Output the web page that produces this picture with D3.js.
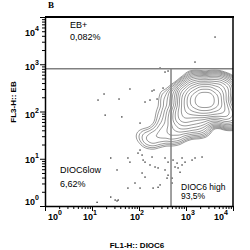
<!DOCTYPE html>
<html>
<head>
<meta charset="utf-8">
<script src="https://cdn.jsdelivr.net/npm/d3@7"></script>
<style>
  body { margin: 0; background: #fff; }
  svg { display: block; font-family: Arial, "Liberation Sans", sans-serif; }
  text { fill: #000; }
</style>
</head>
<body>
<svg id="chart" width="250" height="250"></svg>
<script>
// axis decades and their exponent labels
const decades = [1, 10, 100, 1000, 10000];
const exponents = ["0", "1", "2", "3", "4"];

// quadrant gates
const gateFL1 = 480;
const gateFL3 = 800;

// quadrant names / percentages
const regionNames = ["EB+", "DIOC6low", "DIOC6 high"];
const regionPercents = ["0,082%", "6,62%", "93,5%"];

// individual events drawn as dots (FL1, FL3)
const dotFL1 = [13.4, 18, 37.5, 19, 43, 4140, 1550, 280, 357, 414, 64, 189, 208, 324, 171, 134, 242, 105,
  25, 34, 12.8, 25, 31, 34, 36, 105, 95, 116, 58, 64, 122, 134, 171, 219, 254, 357, 414, 357, 414, 394,
  116, 134, 105, 82, 58, 254, 529, 644, 822, 952, 1342, 1553, 2190, 676, 745, 583, 504, 822, 189, 280, 199, 504];
const dotFL3 = [175, 235, 184, 84, 77, 3770, 1115, 833, 685, 720, 300, 272, 285, 314, 175, 159, 184, 57,
  10.4, 5.8, 1.2, 1.55, 1.34, 1.28, 1.34, 15.3, 13.2, 12, 10.4, 8.5, 9.4, 8.5, 7.4, 6.7, 6.4, 10.4, 8.5, 5.8, 4.5, 3.9,
  5.0, 4.1, 2.4, 3.07, 2.4, 2.5, 9.4, 8.1, 7.4, 8.5, 9.4, 10.4, 10.9, 6.4, 5.2, 6.7, 3.07, 10.4, 10.9, 2.8, 2.4, 3.9];

// main population (weighted centres used for the density contours)
const clusterFL1 = [2535, 1553, 4140, 2535, 2535, 1217, 5290, 952, 6760, 8630, 745, 1553, 4140,
  400, 330, 357, 250, 583, 1986, 952, 171, 105];
const clusterFL3 = [175, 175, 175, 259, 108, 108, 108, 223, 285, 84, 84, 364, 364,
  200, 84, 40.6, 28, 31.8, 52, 52, 25, 32];
const clusterWeight = [12, 8, 8, 6, 6, 5, 5, 4, 4, 4, 3, 3, 3,
  0.7, 0.6, 0.8, 0.5, 1, 2, 2, 0.6, 0.35];

const pLeft = 45, pRight = 233, pTop = 17, pBottom = 206;

const svg = d3.select('#chart');
const x = d3.scaleLog().domain([1, 10000]).range([pLeft, pRight]);
const y = d3.scaleLog().domain([1, 10000]).range([pBottom, pTop]);

const allTicks = [];
decades.slice(0, -1).forEach(d => { for (let k = 1; k < 10; k++) allTicks.push(d * k); });
allTicks.push(10000);
const isMajor = v => decades.includes(v);

svg.append('clipPath').attr('id', 'plotClip')
  .append('rect').attr('x', pLeft).attr('y', pTop).attr('width', pRight - pLeft).attr('height', pBottom - pTop);

// density contours
const cluster = clusterFL1.map((v, i) => ({ fx: v, fy: clusterFL3[i], w: clusterWeight[i] }));
const density = d3.contourDensity()
  .x(d => x(d.fx)).y(d => y(d.fy)).weight(d => d.w)
  .size([250, 250]).cellSize(1).bandwidth(7);
const probe = density.thresholds(200)(cluster);
const maxD = d3.max(probe, c => c.value);
const levels = d3.range(1, 16).map(k => maxD * Math.pow(0.76, k));
const contours = density.thresholds(levels)(cluster);

svg.append('g').attr('clip-path', 'url(#plotClip)')
  .selectAll('path').data(contours).enter().append('path')
  .attr('d', d3.geoPath())
  .attr('fill', 'none')
  .attr('stroke', '#6a6a6a')
  .attr('stroke-width', 0.7);

// dots
svg.append('g').selectAll('rect')
  .data(dotFL1.map((v, i) => [v, dotFL3[i]])).enter().append('rect')
  .attr('x', d => x(d[0]) - 0.6).attr('y', d => y(d[1]) - 0.6)
  .attr('width', 1.3).attr('height', 1.3).attr('fill', '#222');

// gates
svg.append('line').attr('x1', pLeft).attr('x2', pRight).attr('y1', y(gateFL3)).attr('y2', y(gateFL3))
  .attr('stroke', '#808080').attr('stroke-width', 1.5);
svg.append('line').attr('x1', x(gateFL1)).attr('x2', x(gateFL1)).attr('y1', y(gateFL3)).attr('y2', pBottom)
  .attr('stroke', '#808080').attr('stroke-width', 1.5);

// frame top / right
svg.append('line').attr('x1', pLeft).attr('x2', pRight + 1).attr('y1', pTop).attr('y2', pTop)
  .attr('stroke', '#000').attr('stroke-width', 2);
svg.append('line').attr('x1', pRight).attr('x2', pRight).attr('y1', pTop).attr('y2', pBottom)
  .attr('stroke', '#000').attr('stroke-width', 1.5);

// axes
const xAxis = svg.append('g').attr('transform', `translate(0,${pBottom})`)
  .call(d3.axisBottom(x).tickValues(allTicks).tickFormat('').tickSizeOuter(0));
xAxis.selectAll('.tick line').attr('y2', d => isMajor(d) ? 5 : 3);
const yAxis = svg.append('g').attr('transform', `translate(${pLeft},0)`)
  .call(d3.axisLeft(y).tickValues(allTicks).tickFormat('').tickSizeOuter(0));
yAxis.selectAll('.tick line').attr('x2', d => isMajor(d) ? -5 : -3);
svg.selectAll('.domain').attr('stroke-width', 1.5);
svg.selectAll('.tick line').attr('stroke-width', 1);

// tick labels
const xShift = [10, -2, -2, 2, -12];
decades.forEach((d, i) => {
  const t = svg.append('text').attr('x', x(d) + xShift[i]).attr('y', 220)
    .attr('text-anchor', 'middle').attr('font-size', 9).attr('font-weight', 'bold');
  t.append('tspan').text('10');
  t.append('tspan').attr('dy', -5).attr('font-size', 7).text(exponents[i]);
});
const yShift = [-1, 4, 6, 6, 19];
decades.forEach((d, i) => {
  const t = svg.append('text').attr('x', 39).attr('y', y(d) + yShift[i])
    .attr('text-anchor', 'end').attr('font-size', 9).attr('font-weight', 'bold');
  t.append('tspan').text('10');
  t.append('tspan').attr('dy', -5).attr('font-size', 7).text(exponents[i]);
});

// axis titles
svg.append('text').attr('x', 137).attr('y', 248).attr('text-anchor', 'middle')
  .attr('font-size', 8).attr('font-weight', 'bold').text('FL1-H:: DIOC6');
svg.append('text').attr('transform', 'translate(16,102) rotate(-90)').attr('text-anchor', 'middle')
  .attr('font-size', 8).attr('font-weight', 'bold').text('FL3-H:: EB');

// panel letter
svg.append('text').attr('x', 48).attr('y', 8).attr('font-size', 9).attr('font-weight', 'bold')
  .attr('font-family', 'Liberation Serif, serif').text('B');

// region labels
const labelPos = [[70, 28, 40, 9], [60, 173, 187, 9], [181, 190, 199, 8.5]];
regionNames.forEach((n, i) => {
  const p = labelPos[i];
  svg.append('text').attr('x', p[0]).attr('y', p[1]).attr('font-size', p[3]).text(n);
  svg.append('text').attr('x', p[0]).attr('y', p[2]).attr('font-size', p[3]).text(regionPercents[i]);
});
</script>
</body>
</html>
